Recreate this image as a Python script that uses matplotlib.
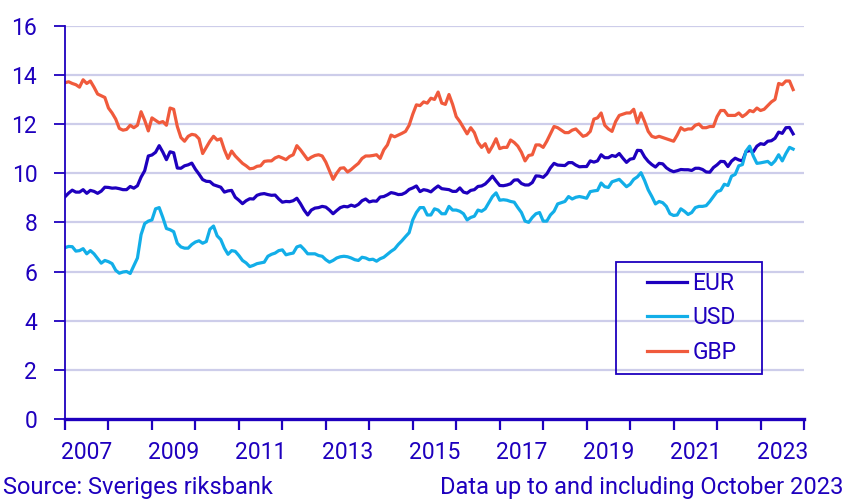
"""SEK exchange rates against EUR, USD and GBP, monthly averages."""
import matplotlib
matplotlib.use("Agg")
import matplotlib.pyplot as plt
import numpy as np
from matplotlib.patches import Rectangle
from matplotlib.ticker import FixedLocator, NullFormatter

plt.rcParams["font.family"] = ["Roboto", "DejaVu Sans"]

# monthly values, Jan 2007 - Oct 2023 (SEK per unit)
eur = [
    9.04, 9.19, 9.31, 9.23, 9.23, 9.33, 9.18, 9.30, 9.26, 9.18, 9.27, 9.43,  # 2007
    9.42, 9.39, 9.40, 9.37, 9.33, 9.33, 9.46, 9.39, 9.49, 9.84, 10.10, 10.70,  # 2008
    10.74, 10.85, 11.12, 10.86, 10.55, 10.87, 10.83, 10.21, 10.20, 10.30, 10.34, 10.41,
    10.16, 9.96, 9.74, 9.67, 9.66, 9.53, 9.48, 9.43, 9.23, 9.28, 9.30, 9.02,
    8.90, 8.76, 8.88, 8.96, 8.95, 9.10, 9.15, 9.17, 9.13, 9.10, 9.11, 8.95,
    8.82, 8.85, 8.84, 8.88, 8.98, 8.76, 8.50, 8.30, 8.50, 8.58, 8.60, 8.65,  # 2012
    8.62, 8.50, 8.35, 8.48, 8.60, 8.65, 8.63, 8.70, 8.65, 8.73, 8.88, 8.95,
    8.83, 8.87, 8.86, 9.03, 9.05, 9.12, 9.21, 9.18, 9.13, 9.14, 9.21, 9.34,
    9.40, 9.48, 9.25, 9.33, 9.30, 9.24, 9.37, 9.48, 9.37, 9.35, 9.33, 9.26,
    9.26, 9.40, 9.23, 9.19, 9.30, 9.33, 9.46, 9.48, 9.56, 9.71, 9.88, 9.68,
    9.50, 9.49, 9.52, 9.57, 9.72, 9.73, 9.58, 9.52, 9.52, 9.62, 9.89, 9.88,  # 2017
    9.83, 9.97, 10.22, 10.40, 10.33, 10.32, 10.31, 10.43, 10.43, 10.33, 10.26, 10.27,
    10.27, 10.50, 10.45, 10.50, 10.75, 10.63, 10.63, 10.72, 10.68, 10.80, 10.61, 10.44,
    10.57, 10.60, 10.93, 10.92, 10.66, 10.48, 10.35, 10.25, 10.40, 10.38, 10.22, 10.12,
    10.06, 10.10, 10.15, 10.14, 10.14, 10.11, 10.20, 10.20, 10.15, 10.05, 10.04, 10.23,
    10.34, 10.48, 10.47, 10.27, 10.49, 10.61, 10.54, 10.50, 10.88, 10.92, 10.87, 11.10,
    11.20, 11.17, 11.30, 11.32, 11.42, 11.67, 11.62, 11.85, 11.86, 11.60,  # 2023
]
usd = [
    6.97, 7.02, 7.01, 6.83, 6.85, 6.93, 6.72, 6.85, 6.72, 6.53, 6.34, 6.45,
    6.40, 6.32, 6.05, 5.93, 5.98, 6.00, 5.92, 6.24, 6.55, 7.50, 7.95, 8.05,
    8.10, 8.55, 8.60, 8.20, 7.75, 7.70, 7.62, 7.15, 7.00, 6.95, 6.95, 7.10,
    7.20, 7.25, 7.15, 7.22, 7.72, 7.85, 7.45, 7.30, 6.95, 6.70, 6.85, 6.82,
    6.65, 6.45, 6.35, 6.20, 6.25, 6.32, 6.35, 6.38, 6.62, 6.70, 6.75, 6.85,
    6.88, 6.68, 6.72, 6.75, 7.00, 7.05, 6.90, 6.72, 6.72, 6.72, 6.65, 6.62,
    6.48, 6.38, 6.45, 6.55, 6.60, 6.62, 6.60, 6.55, 6.48, 6.45, 6.58, 6.55,
    6.48, 6.50, 6.42, 6.52, 6.58, 6.70, 6.82, 6.92, 7.10, 7.25, 7.42, 7.58,
    8.10, 8.40, 8.60, 8.60, 8.30, 8.30, 8.55, 8.50, 8.35, 8.35, 8.65, 8.50,
    8.50, 8.45, 8.35, 8.10, 8.20, 8.25, 8.50, 8.45, 8.55, 8.80, 9.05, 9.20,
    8.90, 8.92, 8.90, 8.85, 8.82, 8.60, 8.40, 8.05, 8.00, 8.20, 8.35, 8.40,
    8.05, 8.05, 8.30, 8.45, 8.75, 8.80, 8.85, 9.05, 8.95, 9.02, 9.05, 9.02,
    8.98, 9.25, 9.28, 9.30, 9.60, 9.45, 9.42, 9.65, 9.70, 9.75, 9.60, 9.45,
    9.55, 9.75, 9.85, 10.02, 9.70, 9.32, 9.05, 8.75, 8.85, 8.80, 8.65, 8.35,
    8.28, 8.30, 8.55, 8.45, 8.32, 8.40, 8.60, 8.65, 8.65, 8.68, 8.85, 9.05,
    9.25, 9.30, 9.55, 9.50, 9.88, 9.95, 10.30, 10.35, 10.90, 11.10, 10.70, 10.40,
    10.42, 10.45, 10.48, 10.35, 10.50, 10.75, 10.50, 10.80, 11.05, 10.98,
]
gbp = [
    13.68, 13.72, 13.65, 13.60, 13.50, 13.80, 13.65, 13.75, 13.50, 13.22, 13.15, 13.08,
    12.65, 12.45, 12.20, 11.82, 11.75, 11.78, 11.95, 11.85, 11.95, 12.50, 12.15, 11.72,
    12.25, 12.15, 12.05, 12.10, 11.95, 12.65, 12.60, 11.90, 11.45, 11.30, 11.50, 11.58,
    11.55, 11.40, 10.80, 11.05, 11.30, 11.50, 11.35, 11.40, 10.95, 10.60, 10.90, 10.70,
    10.55, 10.40, 10.30, 10.18, 10.20, 10.28, 10.30, 10.48, 10.50, 10.50, 10.62, 10.68,
    10.62, 10.55, 10.68, 10.75, 11.12, 10.95, 10.75, 10.55, 10.65, 10.72, 10.75, 10.70,
    10.45, 10.10, 9.75, 10.00, 10.20, 10.22, 10.05, 10.15, 10.28, 10.40, 10.60, 10.70,
    10.70, 10.72, 10.75, 10.60, 10.95, 11.15, 11.55, 11.48, 11.55, 11.62, 11.70, 11.95,
    12.40, 12.78, 12.75, 12.90, 12.85, 13.05, 13.00, 13.30, 12.85, 12.80, 13.20, 12.80,
    12.30, 12.10, 11.85, 11.60, 11.85, 11.65, 11.25, 11.05, 11.20, 10.85, 11.10, 11.40,
    11.00, 11.05, 11.05, 11.35, 11.25, 11.10, 10.85, 10.50, 10.72, 10.75, 11.15, 11.15,
    11.05, 11.30, 11.60, 11.90, 11.85, 11.75, 11.65, 11.65, 11.75, 11.80, 11.65, 11.50,
    11.55, 11.70, 12.20, 12.25, 12.45, 11.95, 11.80, 11.70, 12.10, 12.35, 12.40, 12.45,
    12.45, 12.60, 12.05, 12.45, 12.10, 11.70, 11.50, 11.45, 11.50, 11.45, 11.40, 11.35,
    11.30, 11.55, 11.85, 11.75, 11.80, 11.80, 11.95, 12.00, 11.85, 11.85, 11.90, 11.90,
    12.30, 12.55, 12.55, 12.35, 12.35, 12.35, 12.45, 12.30, 12.40, 12.55, 12.50, 12.65,
    12.55, 12.60, 12.75, 12.90, 13.00, 13.65, 13.60, 13.75, 13.75, 13.40,
]
series = ["EUR", "USD", "GBP"]
year_labels = [str(y) for y in range(2007, 2024, 2)]

blue = "#1E00BE"
colors = {"EUR": blue, "USD": "#12AEE8", "GBP": "#F05A3C"}
grid_color = "#CDCDEA"

t = 2007 + np.arange(len(eur)) / 12

fig = plt.figure(figsize=(8.51, 5.01), dpi=100)
ax = fig.add_axes([65 / 851, 1 - 419 / 501, (804 - 65) / 851, (419 - 25.7) / 501])

for name, vals in zip(series, [eur, usd, gbp]):
    ax.plot(t, vals, color=colors[name], lw=2.3, label=name, solid_joinstyle="round")

ax.set_xlim(2007, 2024)
ax.set_ylim(0, 16)
ax.set_yticks(range(0, 17, 2))
for y in range(2, 17, 2):
    ax.axhline(y, color=grid_color, lw=1.6, zorder=0)

ax.xaxis.set_major_locator(FixedLocator(range(2007, 2025)))
ax.xaxis.set_major_formatter(NullFormatter())
ax.xaxis.set_minor_locator(FixedLocator([int(s) + 0.5 for s in year_labels]))
ax.set_xticklabels(year_labels, minor=True)

ax.tick_params(axis="x", which="major", length=8, width=1.6, color=blue)
ax.tick_params(axis="x", which="minor", length=0, pad=16, labelsize=16.5, labelcolor=blue)
ax.tick_params(axis="y", length=8, width=1.3, color=blue, pad=12, labelsize=16.5,
               labelcolor=blue)

for s in ["top", "right"]:
    ax.spines[s].set_visible(False)
ax.spines["left"].set_color(blue)
ax.spines["left"].set_linewidth(1.3)
ax.spines["bottom"].set_color(blue)
ax.spines["bottom"].set_linewidth(2.4)

# legend with a plain rectangular frame
leg = ax.legend(loc="center", bbox_to_anchor=(692 / 851, 1 - 318 / 501),
                bbox_transform=fig.transFigure, frameon=False, fontsize=16.5,
                handlelength=1.75, handletextpad=0.22, labelspacing=0.5)
for txt in leg.get_texts():
    txt.set_color(blue)
fig.patches.append(Rectangle((616 / 851, 1 - 374 / 501), 146 / 851, 112 / 501,
                             transform=fig.transFigure, fill=False,
                             edgecolor=blue, lw=1.3))

fig.text(3 / 851, 1 - 494 / 501, "Source: Sveriges riksbank", color=blue,
         fontsize=17, ha="left", va="baseline")
fig.text(843 / 851, 1 - 494 / 501, "Data up to and including October 2023",
         color=blue, fontsize=17, ha="right", va="baseline")

fig.savefig("out.png", dpi=100)
